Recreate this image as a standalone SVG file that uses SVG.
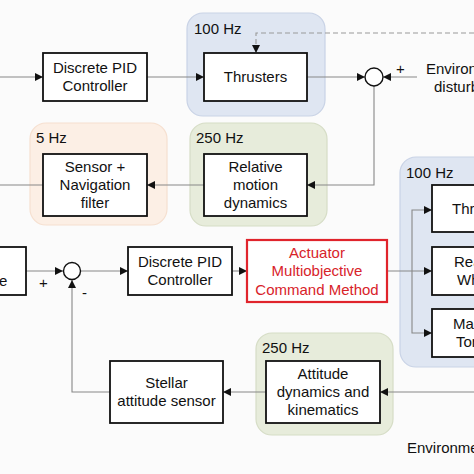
<svg xmlns="http://www.w3.org/2000/svg" width="474" height="474" viewBox="0 0 474 474">
<style>
text{font-family:"Liberation Sans",Arial,sans-serif;font-size:15px;fill:#111;}
.c{text-anchor:middle;}
.box{fill:#fff;stroke:#111;stroke-width:1.8;}
.red{fill:#fff;stroke:#e0242c;stroke-width:2.2;}
.rt{fill:#d8232a;}
.blue{fill:#dfe6f2;stroke:#c9d3e6;stroke-width:1.2;}
.green{fill:#e7ecdb;stroke:#d6ddc6;stroke-width:1.2;}
.peach{fill:#fcefe5;stroke:#f6e0d0;stroke-width:1.2;}
.ln{fill:none;stroke:#888;stroke-width:1.1;}
.ar{marker-end:url(#ah);}
.dash{fill:none;stroke:#999;stroke-width:1.1;stroke-dasharray:5 3;}
.sum{fill:#fff;stroke:#111;stroke-width:1.4;}
</style>
<defs>
<marker id="ah" markerUnits="userSpaceOnUse" markerWidth="9" markerHeight="9" refX="8" refY="4" orient="auto">
<path d="M0,0 L8,4 L0,8 z" fill="#111"/>
</marker>
</defs>
<rect width="474" height="474" fill="#fbfbfb"/>

<g id="groups">
<rect id="g100top" class="blue" x="187" y="13" width="138" height="103" rx="16"/>
<text x="194" y="34">100 Hz</text>
<rect id="g5" class="peach" x="30" y="123" width="137" height="102" rx="16"/>
<text x="36" y="143">5 Hz</text>
<rect id="g250a" class="green" x="190" y="123" width="137" height="103" rx="16"/>
<text x="196" y="143">250 Hz</text>
<rect id="g100r" class="blue" x="400" y="157" width="90" height="210" rx="16"/>
<text x="406" y="178">100 Hz</text>
<rect id="g250b" class="green" x="256" y="333" width="137" height="102" rx="16"/>
<text x="262" y="353">250 Hz</text>
</g>

<g id="connectors">
<path class="ln ar" d="M0,77 H43"/>
<path class="ln ar" d="M147,77 H204"/>
<path class="dash ar" d="M474,33 H256 V53"/>
<path class="ln ar" d="M307,77 H365"/>
<path class="ln ar" d="M417,77 H383"/>
<path class="ln ar" d="M374,86 V185 H307"/>
<path class="ln ar" d="M204,185 H147"/>
<path class="ln" d="M43,185 H0"/>
<path class="ln ar" d="M26,271 H63"/>
<path class="ln ar" d="M81,271 H128"/>
<path class="ln ar" d="M232,271 H247"/>
<path class="ln ar" d="M387,271 H432"/>
<path class="ln ar" d="M412,271 V210 H432"/>
<path class="ln ar" d="M412,271 V333 H432"/>
<path class="ln ar" d="M474,392 H380"/>
<path class="ln ar" d="M266,392 H223"/>
<path class="ln ar" d="M110,392 H72 V280"/>
<text x="396" y="74">+</text>
<text x="39" y="288">+</text>
<text x="82" y="298">-</text>
</g>

<g id="pid1">
<rect class="box" x="43" y="53" width="104" height="48"/>
<text class="c" x="95" y="73">Discrete PID</text>
<text class="c" x="95" y="91">Controller</text>
</g>
<g id="thrusters1">
<rect class="box" x="204" y="53" width="103" height="48"/>
<text class="c" x="255.5" y="82">Thrusters</text>
</g>
<g id="sum1">
<circle class="sum" cx="374" cy="77" r="9"/>
</g>
<g id="env1">
<text x="426" y="74">Environmental</text>
<text x="434" y="92">disturbances</text>
</g>
<g id="sensor">
<rect class="box" x="43" y="154" width="104" height="62"/>
<text class="c" x="95" y="172">Sensor +</text>
<text class="c" x="95" y="190">Navigation</text>
<text class="c" x="95" y="208">filter</text>
</g>
<g id="relmotion">
<rect class="box" x="204" y="154" width="103" height="62"/>
<text class="c" x="255.5" y="172">Relative</text>
<text class="c" x="255.5" y="190">motion</text>
<text class="c" x="255.5" y="208">dynamics</text>
</g>
<g id="ref">
<rect class="box" x="-10" y="247" width="36" height="48"/>
<text x="-1" y="286">e</text>
</g>
<g id="sum2">
<circle class="sum" cx="72" cy="271" r="8.5"/>
</g>
<g id="pid2">
<rect class="box" x="128" y="247" width="104" height="48"/>
<text class="c" x="180" y="267">Discrete PID</text>
<text class="c" x="180" y="285">Controller</text>
</g>
<g id="actuator">
<rect class="red" x="247" y="240" width="140" height="62"/>
<text class="c rt" x="317" y="258">Actuator</text>
<text class="c rt" x="317" y="276">Multiobjective</text>
<text class="c rt" x="317" y="295">Command Method</text>
</g>
<g id="thrusters2">
<rect class="box" x="432" y="185" width="60" height="47"/>
<text x="452" y="214">Thrusters</text>
</g>
<g id="wheels">
<rect class="box" x="432" y="247" width="60" height="48"/>
<text x="454" y="267">Reaction</text>
<text x="457" y="285">Wheels</text>
</g>
<g id="torquers">
<rect class="box" x="432" y="309" width="60" height="48"/>
<text x="453" y="329">Magnetic</text>
<text x="456" y="347">Torquers</text>
</g>
<g id="stellar">
<rect class="box" x="110" y="361" width="113" height="62"/>
<text class="c" x="166.5" y="388">Stellar</text>
<text class="c" x="166.5" y="406">attitude sensor</text>
</g>
<g id="attitude">
<rect class="box" x="266" y="361" width="114" height="62"/>
<text class="c" x="323" y="379">Attitude</text>
<text class="c" x="323" y="397">dynamics and</text>
<text class="c" x="323" y="415">kinematics</text>
</g>
<g id="env2">
<text x="407" y="453">Environmental</text>
</g>
</svg>
